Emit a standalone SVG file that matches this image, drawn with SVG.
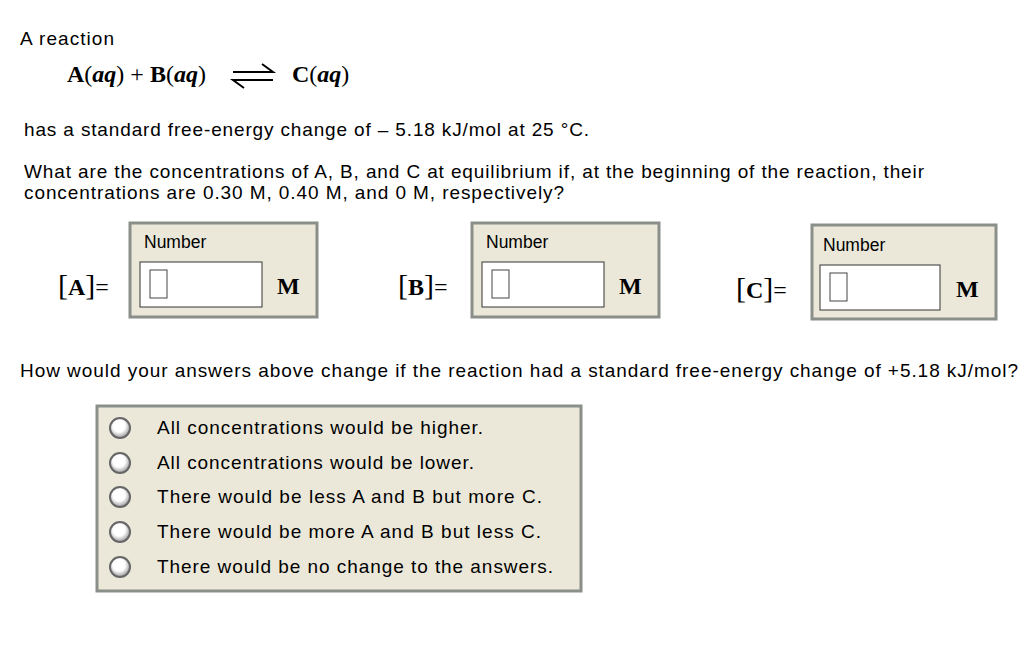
<svg xmlns="http://www.w3.org/2000/svg" width="1024" height="670" viewBox="0 0 1024 670">
<defs>
<radialGradient id="rg" cx="45%" cy="40%" r="60%"><stop offset="0.5" stop-color="#fff"/><stop offset="1" stop-color="#999"/></radialGradient>
</defs>
<style>
.t{font-family:"Liberation Sans",Arial,sans-serif;font-size:19px;fill:#000}
.s{font-family:"Liberation Sans",Arial,sans-serif;font-size:17.5px;fill:#000}
.m{font-family:"Liberation Serif","Times New Roman",serif;font-size:24px;fill:#000}
.br{font-family:"Liberation Serif","Times New Roman",serif;font-size:30px;fill:#000}
.box{fill:#ebe8da;stroke:#8a8f8a;stroke-width:3}
.in{fill:#fff;stroke:#333;stroke-width:1}
.cur{fill:#fff;stroke:#444;stroke-width:1}
.rad{fill:url(#rg);stroke:#666;stroke-width:2}
</style>
<rect width="1024" height="670" fill="#fff"/>
<text class="t" x="20" y="45" textLength="94">A reaction</text>
<text class="m" x="67" y="82"><tspan font-weight="bold">A</tspan>(<tspan font-style="italic" font-weight="bold">aq</tspan>) + <tspan font-weight="bold">B</tspan>(<tspan font-style="italic" font-weight="bold">aq</tspan>)</text>
<g stroke="#000" stroke-width="2" fill="none">
<path d="M233 72H273L262 64"/><path d="M273 80H233L244 88"/>
</g>
<text class="m" x="292" y="82"><tspan font-weight="bold">C</tspan>(<tspan font-style="italic" font-weight="bold">aq</tspan>)</text>
<text class="t" x="24" y="136" textLength="565">has a standard free-energy change of – 5.18 kJ/mol at 25 °C.</text>
<text class="t" x="24" y="178" textLength="900">What are the concentrations of A, B, and C at equilibrium if, at the beginning of the reaction, their</text>
<text class="t" x="24" y="199" textLength="540">concentrations are 0.30 M, 0.40 M, and 0 M, respectively?</text>
<g id="nodeA">
<text class="m" x="58" y="295"><tspan class="br">[</tspan><tspan font-weight="bold">A</tspan><tspan class="br">]</tspan>=</text>
<rect class="box" x="130" y="223" width="187" height="94"/>
<text class="s" x="144" y="248">Number</text>
<rect class="in" x="140" y="262" width="122" height="45"/>
<rect class="cur" x="150" y="270" width="17" height="28"/>
<text class="m" x="277" y="294" font-weight="bold">M</text>
</g>
<g id="nodeB">
<text class="m" x="398" y="295"><tspan class="br">[</tspan><tspan font-weight="bold">B</tspan><tspan class="br">]</tspan>=</text>
<rect class="box" x="472" y="223" width="187" height="94"/>
<text class="s" x="486" y="248">Number</text>
<rect class="in" x="482" y="262" width="122" height="45"/>
<rect class="cur" x="492" y="270" width="17" height="28"/>
<text class="m" x="619" y="294" font-weight="bold">M</text>
</g>
<g id="nodeC">
<text class="m" x="736" y="298"><tspan class="br">[</tspan><tspan font-weight="bold">C</tspan><tspan class="br">]</tspan>=</text>
<rect class="box" x="812" y="225" width="184" height="94"/>
<text class="s" x="823" y="251">Number</text>
<rect class="in" x="820" y="265" width="120" height="45"/>
<rect class="cur" x="830" y="273" width="17" height="28"/>
<text class="m" x="956" y="297" font-weight="bold">M</text>
</g>
<text class="t" x="20" y="377" textLength="998">How would your answers above change if the reaction had a standard free-energy change of +5.18 kJ/mol?</text>
<g id="options">
<rect class="box" x="97" y="406" width="484" height="185"/>
<circle class="rad" cx="120" cy="428" r="10"/>
<circle class="rad" cx="120" cy="463" r="10"/>
<circle class="rad" cx="120" cy="497" r="10"/>
<circle class="rad" cx="120" cy="532" r="10"/>
<circle class="rad" cx="120" cy="567" r="10"/>
<text class="t" x="157" y="434" textLength="326">All concentrations would be higher.</text>
<text class="t" x="157" y="469" textLength="317">All concentrations would be lower.</text>
<text class="t" x="157" y="503" textLength="385">There would be less A and B but more C.</text>
<text class="t" x="157" y="538" textLength="384">There would be more A and B but less C.</text>
<text class="t" x="157" y="573" textLength="396">There would be no change to the answers.</text>
</g>
</svg>
